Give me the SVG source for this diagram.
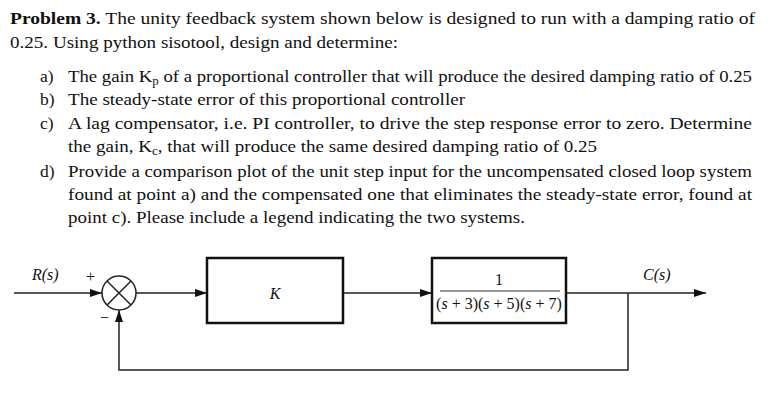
<svg xmlns="http://www.w3.org/2000/svg" width="778" height="409" viewBox="0 0 778 409">
<style>
text{font-family:"Liberation Serif",serif;font-size:16px;fill:#111}
#text text{font-size:17.5px}
.ln{stroke:#222;stroke-width:1.5;fill:none}
.bx{stroke:#111;stroke-width:2.5;fill:#fff}
.it{font-style:italic}
</style>
<defs><marker id="a" markerWidth="12" markerHeight="8" refX="12" refY="4" orient="auto" markerUnits="userSpaceOnUse"><path d="M0,0L12,4L0,8z" fill="#111"/></marker></defs>
<rect width="778" height="409" fill="#fff"/>
<g id="text">
<text x="10" y="24" textLength="745" lengthAdjust="spacingAndGlyphs"><tspan font-weight="bold">Problem 3.</tspan> The unity feedback system shown below is designed to run with a damping ratio of</text>
<text x="10" y="48" textLength="388" lengthAdjust="spacingAndGlyphs">0.25. Using python sisotool, design and determine:</text>
<text x="40" y="82">a)</text><text x="68" y="82" textLength="684" lengthAdjust="spacingAndGlyphs">The gain K<tspan font-size="12" dy="3">p</tspan><tspan dy="-3"> of a proportional controller that will produce the desired damping ratio of 0.25</tspan></text>
<text x="40" y="105">b)</text><text x="68" y="105" textLength="397" lengthAdjust="spacingAndGlyphs">The steady-state error of this proportional controller</text>
<text x="40" y="129">c)</text><text x="68" y="129" textLength="684" lengthAdjust="spacingAndGlyphs">A lag compensator, i.e. PI controller, to drive the step response error to zero. Determine</text>
<text x="68" y="152" textLength="529" lengthAdjust="spacingAndGlyphs">the gain, K<tspan font-size="12" dy="3">c</tspan><tspan dy="-3">, that will produce the same desired damping ratio of 0.25</tspan></text>
<text x="40" y="177">d)</text><text x="68" y="177" textLength="684" lengthAdjust="spacingAndGlyphs">Provide a comparison plot of the unit step input for the uncompensated closed loop system</text>
<text x="68" y="200" textLength="684" lengthAdjust="spacingAndGlyphs">found at point a) and the compensated one that eliminates the steady-state error, found at</text>
<text x="68" y="223" textLength="457" lengthAdjust="spacingAndGlyphs">point c). Please include a legend indicating the two systems.</text>
</g>
<g id="connectors">
<line class="ln" x1="14" y1="293" x2="102" y2="293" marker-end="url(#a)"/>
<line class="ln" x1="136" y1="293" x2="207" y2="293" marker-end="url(#a)"/>
<line class="ln" x1="343" y1="293" x2="432" y2="293" marker-end="url(#a)"/>
<line class="ln" x1="566" y1="293" x2="706" y2="293" marker-end="url(#a)"/>
<polyline class="ln" points="628,293 628,370 119,370 119,310" marker-end="url(#a)"/>
</g>
<g id="sum">
<circle cx="119" cy="293" r="17" fill="#fff" stroke="#222" stroke-width="1.5"/>
<path class="ln" d="M107,281L131,305M131,281L107,305"/>
<text x="86" y="282" font-size="15">+</text>
<text x="100" y="323" font-size="15">−</text>
</g>
<g id="K"><rect class="bx" x="207" y="258" width="136" height="65"/><text class="it" x="275" y="299" text-anchor="middle" font-size="17">K</text></g>
<g id="G"><rect class="bx" x="432" y="258" width="134" height="65"/>
<text x="499" y="285" text-anchor="middle">1</text>
<line x1="440" y1="291" x2="560" y2="291" stroke="#333" stroke-width="1.2"/>
<text x="499" y="309" text-anchor="middle" font-size="12" fill="#444">(<tspan font-style="italic">s</tspan> + 3)(<tspan font-style="italic">s</tspan> + 5)(<tspan font-style="italic">s</tspan> + 7)</text></g>
<g id="labels">
<text class="it" x="32" y="280" font-size="17">R(s)</text>
<text class="it" x="643" y="280" font-size="17">C(s)</text>
</g>
</svg>
